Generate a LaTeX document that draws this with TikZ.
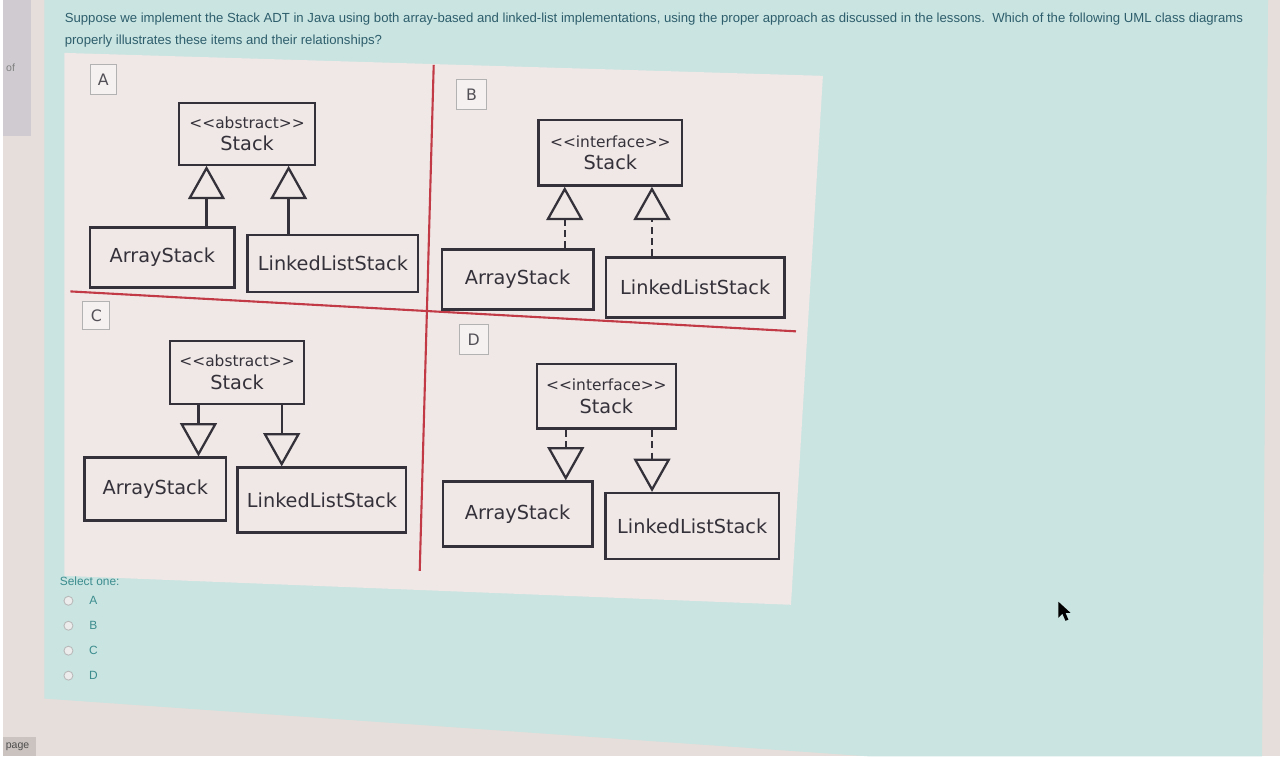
\documentclass[tikz,border=0pt]{standalone}
\usepackage{fontspec}
\setmainfont{Liberation Sans}
\newfontfamily\umlfont{DejaVu Sans}
\usetikzlibrary{arrows.meta,calc}
\definecolor{pagebg}{HTML}{E6DEDA}
\definecolor{quizbg}{HTML}{C9E4E1}
\definecolor{panelbg}{HTML}{EFE8E6}
\definecolor{sidebar}{HTML}{CFCBD0}
\definecolor{inkcol}{HTML}{35313A}
\definecolor{qtext}{HTML}{2E5E6C}
\definecolor{seltext}{HTML}{3C8C8E}
\definecolor{divred}{HTML}{C23A45}
\tikzset{
  cls/.style={draw=inkcol, line width=1.3pt, text=inkcol, inner sep=0pt, align=center,
    font=\umlfont\fontsize{11}{13}\selectfont},
  tag/.style={draw=gray!60, line width=.5pt, fill=white!40!panelbg, text=inkcol!85,
    inner sep=0pt, font=\umlfont\fontsize{9}{10}\selectfont},
  gen/.style={draw=inkcol, line width=1.3pt, -{Triangle[open, length=19pt, width=21pt]}},
  real/.style={gen, dash pattern=on 4pt off 2.5pt},
  divider/.style={draw=divred, line width=1.2pt},
  qline/.style={text=qtext, inner sep=0pt, font=\fontsize{7.5}{9}\selectfont},
  radio/.style={circle, draw=gray!55, fill=white!85!gray, line width=.5pt, inner sep=0pt, minimum size=.18cm},
  opt/.style={text=seltext, inner sep=0pt, font=\fontsize{6.8}{8}\selectfont}
}
\newcommand{\stereo}[1]{{\fontsize{8.8}{10}\selectfont #1}}
\begin{document}
\begin{tikzpicture}[x=0.02cm,y=-0.02cm]
\fill[pagebg] (0,0) rectangle (1280,758);
\fill[quizbg] (42,0) -- (1268,0) -- (1262,758) -- (870,758) -- (42,700) -- cycle;
\fill[sidebar] (0,0) rectangle (28,136);
\fill[black!12!pagebg] (0,738) rectangle (33,758);
\node[text=gray, font=\fontsize{6}{7}\selectfont] (ofmark) at (8,68) {of};
\node[text=black!70, font=\fontsize{6}{7}\selectfont] (pagemark) at (15,748) {page};

\node[qline, anchor=west] (q1) at (62,19) {Suppose we implement the Stack ADT in Java using both array-based and linked-list implementations, using the proper approach as discussed in the lessons.\ \ Which of the following UML class diagrams};
\node[qline, anchor=west] (q2) at (62,41) {properly illustrates these items and their relationships?};

\fill[panelbg] (62,53) -- (822,76) -- (790,606) -- (62,577) -- cycle;
\draw[divider] (432,65) -- (418,572);
\draw[divider] (68,292) -- (795,332);

\node[tag, minimum width=.52cm, minimum height=.6cm] (lblA) at (101,80) {A};
\node[cls, minimum width=2.72cm, minimum height=1.24cm] (stA) at (245,134) {\stereo{<<abstract>>}\\Stack};
\node[cls, minimum width=2.9cm, minimum height=1.2cm] (arrA) at (160,258) {ArrayStack};
\node[cls, minimum width=3.42cm, minimum height=1.14cm] (llA) at (331,264) {LinkedListStack};
\coordinate (pA1) at ($(stA.south west)!.206!(stA.south east)$);
\coordinate (pA2) at ($(stA.south west)!.801!(stA.south east)$);
\draw[gen] (arrA.north -| pA1) -- (pA1);
\draw[gen] (llA.north -| pA2) -- (pA2);

\node[tag, minimum width=.6cm, minimum height=.6cm] (lblB) at (470,95) {B};
\node[cls, minimum width=2.88cm, minimum height=1.32cm] (stB) at (609,153) {\stereo{<<interface>>}\\Stack};
\node[cls, minimum width=3.04cm, minimum height=1.2cm] (arrB) at (516,280) {ArrayStack};
\node[cls, minimum width=3.58cm, minimum height=1.2cm] (llB) at (694,288) {LinkedListStack};
\coordinate (pB1) at ($(stB.south west)!.1875!(stB.south east)$);
\coordinate (pB2) at ($(stB.south west)!.785!(stB.south east)$);
\draw[real] (arrB.north -| pB1) -- (pB1);
\draw[real] (llB.north -| pB2) -- (pB2);

\node[tag, minimum width=.54cm, minimum height=.56cm] (lblC) at (94,316) {C};
\node[cls, minimum width=2.68cm, minimum height=1.26cm] (stC) at (235,373) {\stereo{<<abstract>>}\\Stack};
\node[cls, minimum width=2.84cm, minimum height=1.26cm] (arrC) at (153,490) {ArrayStack};
\node[cls, minimum width=3.38cm, minimum height=1.3cm] (llC) at (320,501) {LinkedListStack};
\coordinate (pC1) at ($(stC.south west)!.216!(stC.south east)$);
\coordinate (pC2) at ($(stC.south west)!.828!(stC.south east)$);
\draw[gen] (pC1) -- (arrC.north -| pC1);
\draw[gen] (pC2) -- (llC.north -| pC2);

\node[tag, minimum width=.58cm, minimum height=.6cm] (lblD) at (472,340) {D};
\node[cls, minimum width=2.78cm, minimum height=1.3cm] (stD) at (605,397) {\stereo{<<interface>>}\\Stack};
\node[cls, minimum width=3cm, minimum height=1.3cm] (arrD) at (516,515) {ArrayStack};
\node[cls, minimum width=3.48cm, minimum height=1.32cm] (llD) at (691,527) {LinkedListStack};
\coordinate (pD1) at ($(stD.south west)!.212!(stD.south east)$);
\coordinate (pD2) at ($(stD.south west)!.824!(stD.south east)$);
\draw[real] (pD1) -- (arrD.north -| pD1);
\draw[real] (pD2) -- (llD.north -| pD2);

\node[opt, anchor=west] (selone) at (57,582) {Select one:};
\foreach \opt [count=\i] in {A,B,C,D} {
  \node[radio] (rad\opt) at (66,577+25*\i) {};
  \node[opt] (lab\opt) at (91,577+25*\i) {\opt};
}
\fill[black] (1058,603) -- (1058,619) -- (1062,615) -- (1065,622) -- (1068,621) -- (1065,614) -- (1070,614) -- cycle;
\end{tikzpicture}
\end{document}
